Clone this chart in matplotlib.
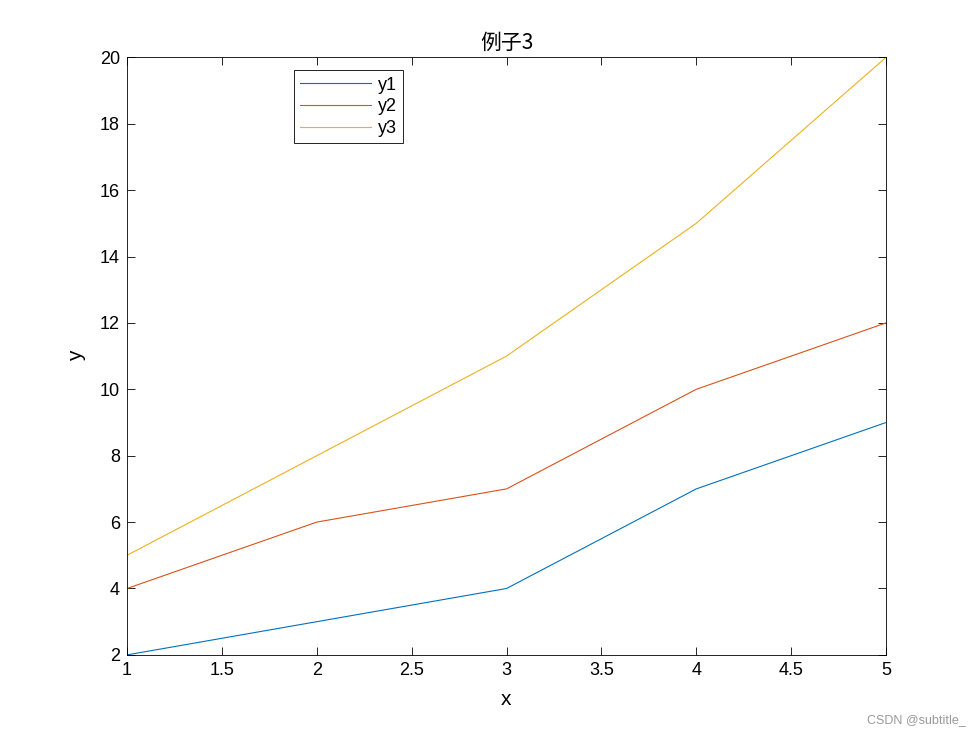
import matplotlib
matplotlib.use("Agg")
import matplotlib.pyplot as plt

plt.rcParams['font.family'] = ['Liberation Sans', 'Noto Sans CJK SC', 'DejaVu Sans']

x = [1, 2, 3, 4, 5]
y1 = [2, 3, 4, 7, 9]
y2 = [4, 6, 7, 10, 12]
y3 = [5, 8, 11, 15, 20]
labels = ['y1', 'y2', 'y3']
colors = ['#0072BD', '#D95319', '#EDB120']

fig = plt.figure(figsize=(9.8, 7.35), dpi=100)
ax = fig.add_axes([0.1296, 0.109, 0.7745, 0.813])

for y, lab, c in zip([y1, y2, y3], labels, colors):
    ax.plot(x, y, color=c, linewidth=0.8, label=lab)

ax.set_xlim(1, 5)
ax.set_ylim(2, 20)
ax.set_xticks([1, 1.5, 2, 2.5, 3, 3.5, 4, 4.5, 5])
ax.set_xticklabels(['1', '1.5', '2', '2.5', '3', '3.5', '4', '4.5', '5'])
ax.set_yticks(range(2, 21, 2))
ax.tick_params(direction='in', top=True, right=True, labelsize=13, length=6, width=0.6, pad=5)
for s in ax.spines.values():
    s.set_linewidth(0.6)
ax.set_xlabel('x', fontsize=15, labelpad=8)
ax.set_ylabel('y', fontsize=15, labelpad=10)
ax.set_title('例子3', fontsize=15, family=['Noto Sans CJK SC', 'DejaVu Sans'])

leg = ax.legend(loc='upper left', bbox_to_anchor=(0.22, 0.978), fontsize=13,
                fancybox=False, framealpha=1, edgecolor='black',
                handlelength=3.9, handletextpad=0.4, borderpad=0.35, labelspacing=0.25,
                borderaxespad=0)
leg.get_frame().set_linewidth(0.6)

fig.text(0.985, 0.012, 'CSDN @subtitle_', ha='right', va='bottom', fontsize=9, color='#999999')

fig.savefig('out.png')
